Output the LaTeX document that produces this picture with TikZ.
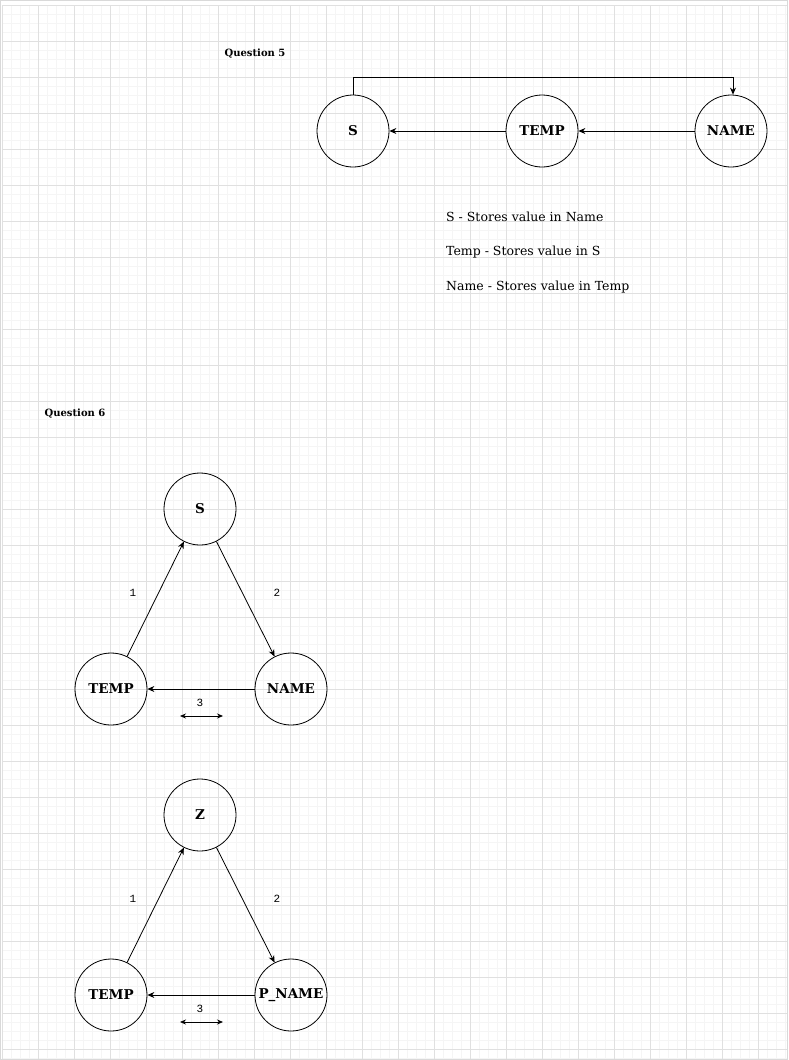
\documentclass[tikz,border=0pt]{standalone}
\usepackage{fontspec}
\setmainfont{DejaVu Serif}
\newfontfamily\numfont{Liberation Mono}
\usetikzlibrary{arrows.meta}
\begin{document}
\begin{tikzpicture}[x=1pt,y=-1pt,
  st/.style={circle,draw,line width=0.8pt,minimum size=72pt,inner sep=0pt,font=\bfseries\fontsize{13.5}{15}\selectfont},
  con/.style={line width=0.8pt,-{Stealth[length=7pt,width=6pt]}},
  lbl/.style={font=\numfont\fontsize{11}{12}\selectfont},
  txt/.style={anchor=west,font=\fontsize{12.5}{15}\selectfont,inner sep=0pt}]
\useasboundingbox (0,0) rectangle (788,1060);
\fill[white] (0,0) rectangle (788,1060);
\foreach \i in {0,...,87} {\draw[black!4,line width=0.6pt] (2+9*\i,5) -- (2+9*\i,1060);}
\foreach \i in {0,...,117} {\draw[black!4,line width=0.6pt] (2,5+9*\i) -- (788,5+9*\i);}
\foreach \i in {0,...,21} {\draw[black!12,line width=0.6pt] (2+36*\i,5) -- (2+36*\i,1060);}
\foreach \i in {0,...,29} {\draw[black!12,line width=0.6pt] (2,5+36*\i) -- (788,5+36*\i);}
\draw[black!15] (0.5,0.5) rectangle (787.5,1059.5);
% Question 5
\node[font=\bfseries\fontsize{10}{12}\selectfont] (q5) at (255,54) {Question 5};
\node[st] (s5) at (353,131) {S};
\node[st] (t5) at (542,131) {TEMP};
\node[st] (n5) at (731,131) {NAME};
\draw[con] (n5) -- (t5);
\draw[con] (t5) -- (s5);
\coordinate (c1) at (353,77);
\coordinate (c2) at (733,77);
\draw[con] (s5.north) -- (c1) -- (c2) -- ([xshift=2pt]n5.north);
\node[txt] (l1) at (446,217) {S - Stores value in Name};
\node[txt] (l2) at (446,252) {Temp - Stores value in S};
\node[txt] (l3) at (446,287) {Name - Stores value in Temp};
% Question 6
\node[font=\bfseries\fontsize{10}{12}\selectfont] (q6) at (75,414) {Question 6};
\node[st] (s6) at (200,509) {S};
\node[st] (t6) at (111,689) {TEMP};
\node[st] (n6) at (291,689) {NAME};
\draw[con] (t6) -- (s6);
\draw[con] (s6) -- (n6);
\draw[con] (n6) -- (t6);
\node[lbl] (a1) at (133,593) {1};
\node[lbl] (a2) at (277,593) {2};
\node[lbl] (a3) at (200,703) {3};
\coordinate (d1) at (180,716);
\coordinate (d2) at (223,716);
\draw[line width=0.8pt,{Stealth[length=6pt,width=5pt]}-{Stealth[length=6pt,width=5pt]}] (d1) -- (d2);
\node[st] (z7) at (200,815) {Z};
\node[st] (t7) at (111,995) {TEMP};
\node[st] (n7) at (291,995) {P\_NAME};
\draw[con] (t7) -- (z7);
\draw[con] (z7) -- (n7);
\draw[con] (n7) -- (t7);
\node[lbl] (b1) at (133,899) {1};
\node[lbl] (b2) at (277,899) {2};
\node[lbl] (b3) at (200,1009) {3};
\coordinate (e1) at (180,1022);
\coordinate (e2) at (223,1022);
\draw[line width=0.8pt,{Stealth[length=6pt,width=5pt]}-{Stealth[length=6pt,width=5pt]}] (e1) -- (e2);
\end{tikzpicture}
\end{document}
